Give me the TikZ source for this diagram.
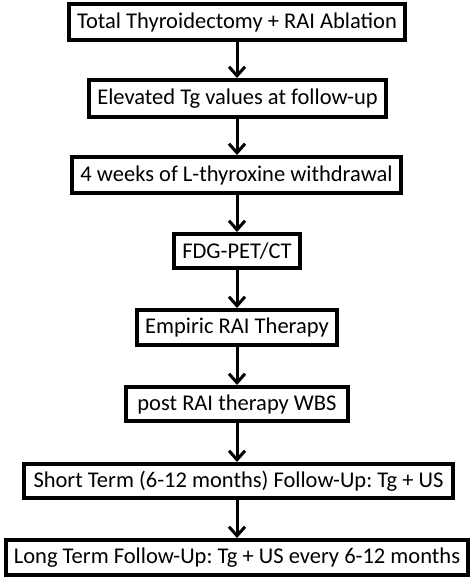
\documentclass[tikz,border=0pt]{standalone}
\usepackage{fontspec}
\setmainfont{Carlito}
\usetikzlibrary{arrows.meta}
\frenchspacing
\tikzset{
  flowbox/.style={draw=black, line width=4pt, fill=white, inner sep=0pt, font=\fontsize{22.5}{26}\selectfont, text=black},
  flowarrow/.style={line width=3pt, -{Straight Barb[length=9pt, width=16pt, line width=3pt]}}
}
\begin{document}
\begin{tikzpicture}[x=1pt, y=-1pt]
\useasboundingbox (0,0) rectangle (474,579);
\node[flowbox, minimum width=336pt, minimum height=36pt] (b1) at (237,22) {Total Thyroidectomy + RAI Ablation};
\node[flowbox, minimum width=297pt, minimum height=37pt] (b2) at (237.5,98.5) {Elevated Tg values at follow-up};
\node[flowbox, minimum width=329pt, minimum height=36pt] (b3) at (236.5,175) {4 weeks of L-thyroxine withdrawal};
\node[flowbox, minimum width=126pt, minimum height=34pt] (b4) at (237,251) {FDG-PET/CT};
\node[flowbox, minimum width=200pt, minimum height=35pt] (b5) at (237,327.5) {Empiric RAI Therapy};
\node[flowbox, minimum width=222pt, minimum height=34pt] (b6) at (237,404) {post RAI therapy WBS};
\node[flowbox, minimum width=429pt, minimum height=34pt] (b7) at (238.5,481) {Short Term (6-12 months) Follow-Up: Tg + US};
\node[flowbox, minimum width=462pt, minimum height=35pt] (b8) at (237,557.5) {Long Term Follow-Up: Tg + US every 6-12 months};
\draw[flowarrow] (b1.south -| 237,0) -- (b2.north -| 237,0);
\draw[flowarrow] (b2.south -| 237,0) -- (b3.north -| 237,0);
\draw[flowarrow] (b3.south -| 237,0) -- (b4.north -| 237,0);
\draw[flowarrow] (b4.south -| 237,0) -- (b5.north -| 237,0);
\draw[flowarrow] (b5.south -| 237,0) -- (b6.north -| 237,0);
\draw[flowarrow] (b6.south -| 237,0) -- (b7.north -| 237,0);
\draw[flowarrow] (b7.south -| 237,0) -- (b8.north -| 237,0);
\end{tikzpicture}
\end{document}
